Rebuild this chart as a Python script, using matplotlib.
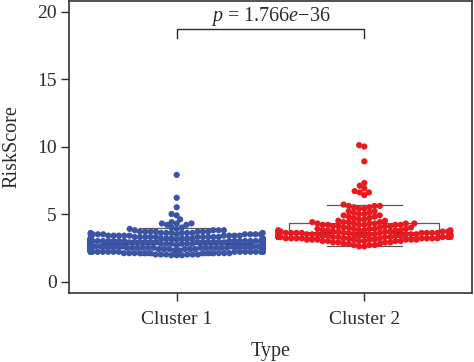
import matplotlib
matplotlib.use("Agg")
import matplotlib.pyplot as plt
import numpy as np

# ── data (value levels and how many samples sit at each) ──────────────────
categories = ["Cluster 1", "Cluster 2"]

c1_levels = [1.95, 2.0, 2.1, 2.2, 2.3, 2.4, 2.5, 2.6, 2.7, 2.8, 2.9, 3.0,
             3.1, 3.2, 3.3, 3.4, 3.5, 3.6, 3.7, 3.8, 3.9, 4.0, 4.2, 4.3,
             4.4, 4.6, 4.9, 5.0, 5.5, 6.2, 7.9]
c1_counts = [3, 6, 12, 18, 20, 20, 24, 24, 24, 24, 24, 24,
             22, 11, 10, 9, 9, 8, 7, 4, 2, 2, 2, 3,
             1, 1, 1, 1, 1, 1, 1]

c2_levels = [2.6, 2.7, 2.8, 2.9, 3.0, 3.1, 3.2, 3.3, 3.4, 3.5, 3.6, 3.7,
             3.8, 3.9, 4.0, 4.1, 4.2, 4.3, 4.4, 4.5, 4.6, 4.7, 4.8, 4.9,
             5.0, 5.1, 5.2, 5.4, 5.5, 5.6, 5.7, 6.4, 6.6, 6.7, 6.9, 7.1,
             7.3, 8.9, 10.0, 10.1]
c2_counts = [2, 3, 3, 4, 6, 9, 11, 12, 12, 12, 11, 10,
             8, 5, 4, 4, 6, 6, 4, 2, 2, 2, 2, 2,
             2, 2, 2, 2, 2, 3, 1, 1, 2, 1, 1, 1,
             1, 1, 1, 1]

p_text = r"$p$ = 1.766$e$−36"
yticks = [0, 5, 10, 15, 20]

C_BLUE = "#3A54A6"
C_RED = "#E8191F"
C_BOX = "#5A5A5A"
C_INK = "#2B2B2B"

plt.rcParams["font.family"] = ["Liberation Serif", "DejaVu Serif"]
plt.rcParams["mathtext.fontset"] = "custom"
plt.rcParams["mathtext.rm"] = "Liberation Serif"
plt.rcParams["mathtext.it"] = "Liberation Serif:italic"

W, H = 474, 362
fig = plt.figure(figsize=(W / 100, H / 100), dpi=100, facecolor="white")
ax = fig.add_axes([69 / W, 69 / H, 403 / W, 292 / H])

XLIM = (-0.574, 1.574)
YLIM = (-0.85, 20.78)
ax.set_xlim(*XLIM)
ax.set_ylim(*YLIM)

# pixel scales used for the swarm layout
xs_px = 403 / (XLIM[1] - XLIM[0])
ys_px = 292 / (YLIM[1] - YLIM[0])
GAP = 5.3  # centre-to-centre spacing of dots, px


def swarm_offsets(vals, halfw_px):
    vals = np.asarray(vals, float)
    order = np.argsort(vals, kind="stable")
    placed = []
    out = np.zeros(len(vals))
    for i in order:
        y = vals[i] * ys_px
        neigh = [(px, py) for px, py in placed if abs(py - y) < GAP]
        cands = [0.0]
        for px, py in neigh:
            dx = np.sqrt(GAP * GAP - (py - y) ** 2)
            cands += [px - dx, px + dx]
        cands.sort(key=abs)
        pick = cands[-1]
        for c in cands:
            if all((c - px) ** 2 + (y - py) ** 2 >= GAP * GAP - 1e-6
                   for px, py in neigh):
                pick = c
                break
        placed.append((pick, y))
        out[i] = pick
    return np.clip(out, -halfw_px, halfw_px) / xs_px


c1 = np.repeat(c1_levels, c1_counts)
c2 = np.repeat(c2_levels, c2_counts)

# ── box plot underneath ───────────────────────────────────────────────────
line = dict(color=C_BOX, linewidth=0.9)
ax.boxplot([c1, c2], positions=[0, 1], widths=0.8, capwidths=0.4,
           showfliers=False, whis=1.5,
           boxprops=line, whiskerprops=line, capprops=line,
           medianprops=dict(color="#222222", linewidth=1.3),
           zorder=1)

# ── bee swarm ─────────────────────────────────────────────────────────────
for pos, vals, col in ((0, c1, C_BLUE), (1, c2, C_RED)):
    off = swarm_offsets(vals, 86)
    ax.scatter(pos + off, vals, s=20, color=col, edgecolors="none", zorder=3)

# ── significance bracket ──────────────────────────────────────────────────
ax.plot([0, 0, 1, 1], [18.05, 18.7, 18.7, 18.05], color=C_INK, lw=1.0,
        zorder=4)
ax.text(0.5, 19.65, p_text, ha="center", va="center", fontsize=14.5,
        color=C_INK)

# ── axes cosmetics ────────────────────────────────────────────────────────
ax.set_xticks([0, 1])
ax.set_xticklabels(categories)
ax.set_yticks(yticks)
ax.tick_params(axis="both", direction="out", length=6, width=1.0,
               colors=C_INK, labelsize=14, pad=3)
ax.tick_params(axis="x", pad=7)
for sp in ax.spines.values():
    sp.set_color("#333333")
    sp.set_linewidth(1.2)

ax.set_xlabel("Type", fontsize=14.5, color=C_INK, labelpad=10)
ax.set_ylabel("RiskScore", fontsize=14.5, color=C_INK, labelpad=11)

fig.savefig("out.png", dpi=100, facecolor="white")
